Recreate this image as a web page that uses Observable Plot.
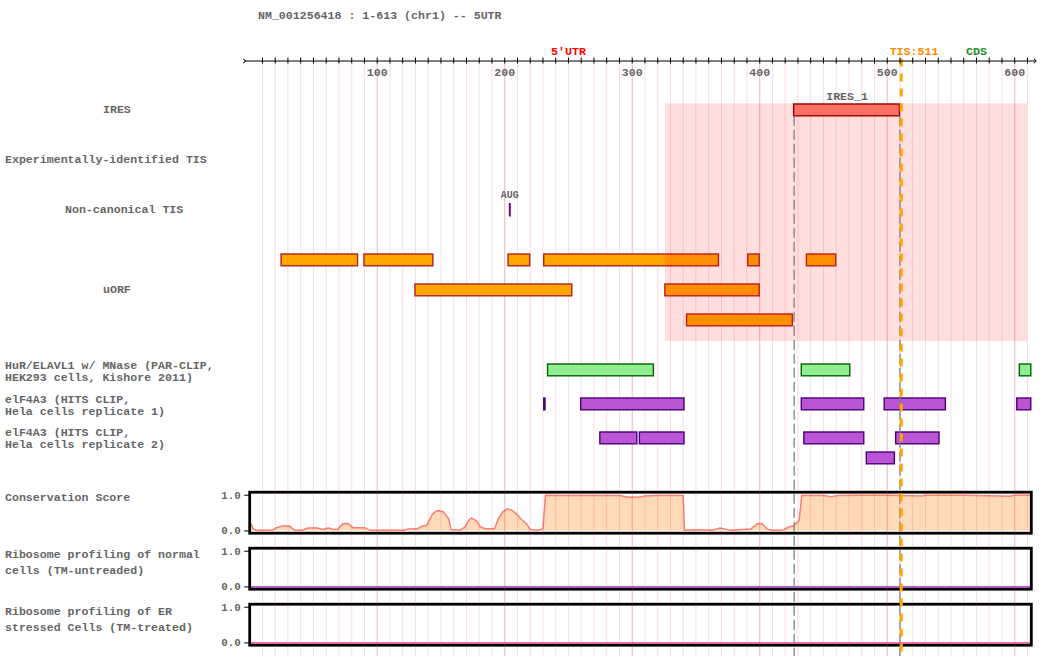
<!DOCTYPE html>
<html>
<head>
<meta charset="utf-8">
<script src="https://cdn.jsdelivr.net/npm/d3@7"></script>
<script src="https://cdn.jsdelivr.net/npm/@observablehq/plot@0.6"></script>
<style>
  html, body { margin: 0; padding: 0; background: #fff; overflow: hidden; }
  #chart { position: relative; width: 1050px; height: 656px; font-family: "Liberation Mono", "DejaVu Sans Mono", monospace; font-weight: bold; font-size: 11.6px; color: #666; }
  #chart .lbl { position: absolute; white-space: pre; }
  #chart svg { position: absolute; left: 0; }
</style>
</head>
<body>
<div id="chart"></div>
<script>
// ---- transcript ----
const transcript = "NM_001256418 : 1-613 (chr1) -- 5UTR";
const seqLength = 613;
const tisPosition = 511;

// ---- axis ticks ----
const majorTicks = [100, 200, 300, 400, 500, 600];
const minorTicks = d3.range(10, 611, 10);

// ---- region labels along the axis ----
const regionLabels = ["5'UTR", "TIS:511", "CDS"];
const regionLabelPos = [250, 521, 570];
const regionLabelColors = ["red", "darkorange", "forestgreen"];

// ---- IRES ----
const iresName = ["IRES_1"];
const iresStart = [427];
const iresEnd = [510];

// ---- non-canonical TIS ----
const augPosition = [204];
const augLabel = ["AUG"];

// ---- uORFs (lane = packing row) ----
const uorfStart = [25, 90, 203, 231, 391, 437, 130, 326, 343];
const uorfEnd   = [85, 144, 220, 368, 400, 460, 253, 400, 426];
const uorfLane  = [0, 0, 0, 0, 0, 0, 1, 1, 2];

// ---- highlighted window ----
const highlightStart = [326];
const highlightEnd = [610];

// ---- CLIP peaks ----
const hurStart = [234, 433, 604];
const hurEnd   = [317, 471, 613];

const eif1Start = [231, 260, 433, 498, 602];
const eif1End   = [232, 341, 482, 546, 613];

const eif2Start = [275, 306, 435, 507, 484];
const eif2End   = [304, 341, 482, 541, 506];
const eif2Lane  = [0, 0, 0, 0, 1];

// ---- conservation score ----
const consPos = [1, 3, 5, 18, 21, 26, 31, 35, 41, 46, 53, 57, 62, 65, 69, 73, 77, 81, 90, 94,
  121, 124, 131, 135, 139, 143, 146, 148, 152, 156, 158, 165, 169, 172, 174, 178, 181, 185, 192, 195,
  199, 202, 206, 210, 212, 217, 220, 226, 230, 232, 245, 260, 275, 290, 297, 306, 310, 320, 340, 341,
  353, 363, 369, 373, 377, 393, 398, 402, 406, 410, 418, 423, 427, 431, 433, 440, 450, 456, 462, 480,
  500, 527, 530, 560, 596, 600, 613];
const consVal = [0.2, 0.05, 0.02, 0.02, 0.09, 0.14, 0.14, 0.02, 0.02, 0.08, 0.08, 0.04, 0.08, 0.04, 0.04, 0.2, 0.21, 0.09, 0.09, 0.02,
  0.02, 0.05, 0.05, 0.13, 0.16, 0.45, 0.55, 0.57, 0.53, 0.34, 0.04, 0.02, 0.11, 0.3, 0.36, 0.28, 0.11, 0.06, 0.06, 0.34,
  0.55, 0.62, 0.57, 0.45, 0.36, 0.2, 0.04, 0.02, 0.06, 1.0, 0.99, 0.99, 0.99, 0.99, 0.94, 0.95, 0.98, 0.99, 0.99, 0.02,
  0.03, 0.02, 0.08, 0.05, 0.02, 0.05, 0.2, 0.2, 0.05, 0.02, 0.02, 0.11, 0.15, 0.3, 1.0, 0.99, 0.99, 0.96, 0.99, 1.0,
  1.0, 0.98, 1.0, 1.0, 0.97, 1.0, 1.0];

// ---- ribosome profiling ----
const riboNormalPos = [1, 613];
const riboNormalVal = [0, 0];
const riboStressPos = [1, 613];
const riboStressVal = [0, 0];

// ---- track labels ----
const trackLabels = [
  {text: "IRES", left: 103, top: 103.5, lh: 12},
  {text: "Experimentally-identified TIS", left: 5, top: 153.8, lh: 12},
  {text: "Non-canonical TIS", left: 65, top: 203.8, lh: 12},
  {text: "uORF", left: 103, top: 283.5, lh: 12},
  {text: "HuR/ELAVL1 w/ MNase (PAR-CLIP,\nHEK293 cells, Kishore 2011)", left: 5, top: 359.8, lh: 11.8},
  {text: "elF4A3 (HITS CLIP,\nHela cells replicate 1)", left: 5, top: 394, lh: 11.8},
  {text: "elF4A3 (HITS CLIP,\nHela cells replicate 2)", left: 5, top: 426.5, lh: 12.4},
  {text: "Conservation Score", left: 5, top: 492.3, lh: 12},
  {text: "Ribosome profiling of normal\ncells (TM-untreaded)", left: 5, top: 547, lh: 15.7},
  {text: "Ribosome profiling of ER\nstressed Cells (TM-treated)", left: 5, top: 604.3, lh: 15.4}
];

// ---- vertical layout of the feature panel (pixels) ----
const layout = {
  axisY: 60.5, tickLabelY: 72, regionLabelY: 51, gridTop: 61, bottom: 656,
  ires: [104, 115.8], iresLabelY: 95.5,
  aug: [203, 216.5], augLabelY: 194,
  uorf: [[254, 265.8], [284, 295.8], [314, 325.8]],
  highlight: [103.3, 341],
  hur: [364, 375.8],
  eif1: [398, 409.8],
  eif2: [[432, 443.8], [452, 463.8]],
  signalTops: [485, 541, 597]
};

const xRange = [249.2, 1030.8];
const font = {fontFamily: "Liberation Mono, DejaVu Sans Mono, monospace", fontWeight: "bold", fontSize: "11.6px"};

const chart = document.getElementById("chart");

// title and track labels
const title = document.createElement("div");
title.className = "lbl";
title.style.left = "258px"; title.style.top = "10px"; title.style.lineHeight = "12px";
title.textContent = transcript;
chart.appendChild(title);
for (const t of trackLabels) {
  const el = document.createElement("div");
  el.className = "lbl";
  el.style.left = t.left + "px"; el.style.top = t.top + "px"; el.style.lineHeight = t.lh + "px";
  el.textContent = t.text;
  chart.appendChild(el);
}

// ---- signal tracks ----
function signalTrack(pos, val, {stroke, strokeWidth, area}) {
  const data = pos.map((p, i) => ({pos: p, val: val[i]}));
  return Plot.plot({
    width: 1050, height: 56,
    marginLeft: xRange[0], marginRight: 1050 - xRange[1], marginTop: 6.7, marginBottom: 8.3,
    x: {domain: [0, seqLength], axis: null},
    y: {domain: [0, 1], insetTop: 3, insetBottom: 2.3, axis: null},
    style: {background: "transparent", overflow: "visible", ...font},
    marks: [
      area ? Plot.areaY(data, {x: "pos", y: "val", fill: "peachpuff"}) : null,
      Plot.lineY(data, {x: "pos", y: "val", stroke, strokeWidth}),
      Plot.frame({stroke: "black", strokeWidth: 2.8}),
      Plot.axisY({ticks: [0, 1], tickFormat: d3.format(".1f"), tickSize: 5, tickPadding: 4, label: null,
        stroke: "black", fill: "#666", fontSize: 10.8})
    ]
  });
}

const tracks = [
  signalTrack(consPos, consVal, {stroke: "salmon", strokeWidth: 1.5, area: true}),
  signalTrack(riboNormalPos, riboNormalVal, {stroke: "mediumorchid", strokeWidth: 1.8}),
  signalTrack(riboStressPos, riboStressVal, {stroke: "hotpink", strokeWidth: 1.8})
];
tracks.forEach((svg, i) => { svg.style.top = layout.signalTops[i] + "px"; chart.appendChild(svg); });

// ---- feature panel ----
const bars = (starts, ends, lanes, laneRows) =>
  starts.map((s, i) => ({start: s, end: ends[i], y1: laneRows(lanes ? lanes[i] : 0)[0], y2: laneRows(lanes ? lanes[i] : 0)[1]}));

const uorfs = bars(uorfStart, uorfEnd, uorfLane, l => layout.uorf[l]);
const hur = bars(hurStart, hurEnd, null, () => layout.hur);
const eif1 = bars(eif1Start, eif1End, null, () => layout.eif1);
const eif2 = bars(eif2Start, eif2End, eif2Lane, l => layout.eif2[l]);
const ires = bars(iresStart, iresEnd, null, () => layout.ires).map((d, i) => ({...d, name: iresName[i]}));
const highlight = bars(highlightStart, highlightEnd, null, () => layout.highlight);

const main = Plot.plot({
  width: 1050, height: 656, margin: 0,
  x: {domain: [0, seqLength], range: xRange, axis: null},
  y: {domain: [0, 656], range: [0, 656], axis: null},
  color: {type: "identity"},
  style: {background: "transparent", overflow: "visible", ...font},
  marks: [
    // grid
    Plot.ruleX(minorTicks.filter(d => d % 100 !== 0), {x: d => d, y1: () => layout.gridTop, y2: () => layout.bottom, stroke: "#cc2a48", strokeOpacity: 0.16}),
    Plot.ruleX(majorTicks, {x: d => d, y1: () => layout.gridTop, y2: () => layout.bottom, stroke: "#cc2a48", strokeOpacity: 0.34}),
    // features
    Plot.rect(ires, {x1: "start", x2: "end", y1: "y1", y2: "y2", fill: "salmon", stroke: "darkred", strokeWidth: 1.4}),
    Plot.ruleX(augPosition, {x: d => d, y1: () => layout.aug[0], y2: () => layout.aug[1], stroke: "purple", strokeWidth: 2}),
    Plot.rect(uorfs, {x1: "start", x2: "end", y1: "y1", y2: "y2", fill: "orange", stroke: "firebrick", strokeWidth: 1.4}),
    Plot.rect(hur, {x1: "start", x2: "end", y1: "y1", y2: "y2", fill: "lightgreen", stroke: "darkgreen", strokeWidth: 1.4}),
    Plot.rect(eif1, {x1: "start", x2: "end", y1: "y1", y2: "y2", fill: "mediumorchid", stroke: "indigo", strokeWidth: 1.4}),
    Plot.rect(eif2, {x1: "start", x2: "end", y1: "y1", y2: "y2", fill: "mediumorchid", stroke: "indigo", strokeWidth: 1.4}),
    // highlighted window
    Plot.rect(highlight, {x1: "start", x2: "end", y1: "y1", y2: "y2", fill: "red", fillOpacity: 0.13}),
    // IRES boundaries and TIS
    Plot.ruleX([iresStart[0], iresEnd[0]], {x: d => d, y1: () => layout.ires[1], y2: () => layout.bottom, stroke: "#808080", strokeWidth: 1.3, strokeDasharray: "10,4"}),
    Plot.ruleX([tisPosition], {x: d => d, y1: () => layout.axisY - 2, y2: () => layout.bottom, stroke: "orange", strokeWidth: 3, strokeDasharray: "8,7"}),
    // axis
    Plot.link([0], {x1: () => -4, x2: () => seqLength + 3, y1: () => layout.axisY, y2: () => layout.axisY, stroke: "black", strokeWidth: 1, markerStart: "arrow", markerEnd: "arrow"}),
    Plot.ruleX(minorTicks, {x: d => d, y1: () => layout.axisY - 3, y2: () => layout.axisY + 3, stroke: "black"}),
    Plot.text(majorTicks, {x: d => d, y: () => layout.tickLabelY, text: d => String(d), fill: "#666"}),
    Plot.text(regionLabels, {x: (d, i) => regionLabelPos[i], y: () => layout.regionLabelY, text: d => d, fill: (d, i) => regionLabelColors[i]}),
    // feature labels
    Plot.text(ires, {x: d => (d.start + d.end) / 2, y: () => layout.iresLabelY, text: "name", fill: "#666"}),
    Plot.text(augLabel, {x: (d, i) => augPosition[i], y: () => layout.augLabelY, text: d => d, fill: "#666", fontSize: 10})
  ]
});
main.style.top = "0px";
chart.appendChild(main);
</script>
</body>
</html>
